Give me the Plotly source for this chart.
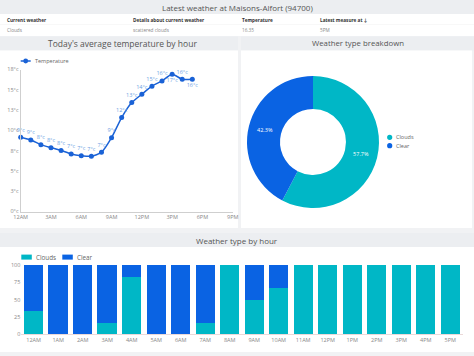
import plotly.graph_objects as go

W, H = 474, 356

# ---------------- data ----------------
hours = list(range(18))
hour_labels = ["12AM", "1AM", "2AM", "3AM", "4AM", "5AM", "6AM", "7AM", "8AM",
               "9AM", "10AM", "11AM", "12PM", "1PM", "2PM", "3PM", "4PM", "5PM"]
temperature = [9.15, 8.82, 8.24, 7.87, 7.52, 7.09, 6.88, 6.81, 7.30, 9.10,
               11.57, 13.42, 14.45, 15.45, 16.09, 16.92, 16.30, 16.30]
temp_label_pos = ["top center"] * 15 + ["bottom center", "top center", "bottom center"]

x_tick_vals = [0, 3, 6, 9, 12, 15, 18, 21]
x_tick_text = ["12AM", "3AM", "6AM", "9AM", "12PM", "3PM", "6PM", "9PM"]
y_tick_vals = [0, 2.5, 5, 7.5, 10, 12.5, 15, 17.5]
y_tick_text = ["0°c", "3°c", "5°c", "8°c", "10°c", "13°c", "15°c", "18°c"]

weather_types = ["Clouds", "Clear"]
weather_share = [57.7, 42.3]

clouds_pct = [33.3, 0, 0, 16.7, 83.3, 0, 0, 16.7, 100, 50, 66.7,
              100, 100, 100, 100, 100, 100, 100]
clear_pct = [100 - v for v in clouds_pct]

table_headers = ["Current weather", "Details about current weather", "Temperature", "Latest measure at ↓"]
table_values = ["Clouds", "scattered clouds", "16.35", "5PM"]

TEAL = "#00b7c6"
BLUE = "#0a63e3"
LINE = "#1a62d6"
FONT = "Open Sans, Lato, sans-serif"


def px(x):
    return x / W


def py(y):
    return 1 - y / H


fig = go.Figure()

# line chart
fig.add_trace(go.Scatter(
    x=hours, y=temperature, mode="lines+markers+text", name="Temperature",
    line=dict(color=LINE, width=1.5, shape="spline", smoothing=0.6),
    marker=dict(color=LINE, size=5),
    text=[f"{v:.0f}°c" for v in temperature], textposition=temp_label_pos,
    textfont=dict(size=5.5, color="#6c9fe3", family=FONT),
    cliponaxis=False, xaxis="x", yaxis="y", showlegend=False,
))

# donut
fig.add_trace(go.Pie(
    labels=weather_types, values=weather_share, hole=0.5, sort=False,
    direction="clockwise", rotation=0,
    marker=dict(colors=[TEAL, BLUE]),
    textinfo="percent", texttemplate="%{percent:.1%}", textposition="inside",
    insidetextorientation="horizontal",
    textfont=dict(size=5.5, color="white", family=FONT),
    domain=dict(x=[px(247), px(379)], y=[py(208), py(76)]),
    showlegend=False,
))

# stacked bars
fig.add_trace(go.Bar(x=hour_labels, y=clouds_pct, name="Clouds", marker_color=TEAL,
                     marker_line_width=0, xaxis="x3", yaxis="y3", showlegend=False))
fig.add_trace(go.Bar(x=hour_labels, y=clear_pct, name="Clear", marker_color=BLUE,
                     marker_line_width=0, xaxis="x3", yaxis="y3", showlegend=False))

# ---------------- layout decorations ----------------
GRAY = "#eceef1"
shapes = []


def rect(x0, y0, x1, y1, color, layer="below"):
    shapes.append(dict(type="rect", xref="paper", yref="paper", x0=px(x0), x1=px(x1),
                       y0=py(y1), y1=py(y0), fillcolor=color, line=dict(width=0), layer=layer))


def dot(cx, cy, r, color):
    shapes.append(dict(type="circle", xref="paper", yref="paper", x0=px(cx - r), x1=px(cx + r),
                       y0=py(cy + r), y1=py(cy - r), fillcolor=color, line=dict(width=0), layer="above"))


rect(0, 0, 474, 14, GRAY)
rect(0, 14, 474, 36, "white")
rect(0, 36.5, 238, 50.5, GRAY)
rect(0, 50.5, 238, 228, "white")
rect(241, 36.5, 474, 50.5, GRAY)
rect(241, 50.5, 472, 228, "white")
rect(0, 233, 474, 247, GRAY)
rect(0, 247, 474, 352, "white")
shapes.append(dict(type="line", xref="paper", yref="paper", x0=0, x1=1, y0=py(24.5), y1=py(24.5),
                   line=dict(color="#f0f0f0", width=0.5)))

annotations = []


def text(x, y, s, size, color, xanchor="left", bold=False):
    annotations.append(dict(x=px(x), y=py(y), xref="paper", yref="paper", text=f"<b>{s}</b>" if bold else s,
                            showarrow=False, xanchor=xanchor, yanchor="middle",
                            font=dict(size=size, color=color, family=FONT)))


text(237, 7.5, "Latest weather at Maisons-Alfort (94700)", 8, "#555", "center")
for cx, h, v in zip([5, 131, 240, 318], table_headers, table_values):
    text(cx, 19.5, h, 4.7, "#333", bold=True)
    text(cx, 30, v, 4.7, "#888")
text(122, 43.5, "Today's average temperature by hour", 8.5, "#555", "center")
text(358, 43.5, "Weather type breakdown", 7.8, "#555", "center")
text(237, 240, "Weather type by hour", 8, "#555", "center")

# legends (drawn as keys next to each chart)
LEG = "#666"
shapes.append(dict(type="line", xref="paper", yref="paper", x0=px(20.7), x1=px(30.7), y0=py(61), y1=py(61),
                   line=dict(color=LINE, width=1.5), layer="above"))
dot(25.7, 61, 2.4, LINE)
text(32.7, 61, "Temperature", 5.5, LEG)

for (name, col), ly in zip(zip(weather_types, [TEAL, BLUE]), [137.3, 145.7]):
    dot(389.7, ly, 2.6, col)
    text(393.8, ly, name, 5.5, LEG)

for (name, col), lx in zip(zip(weather_types, [TEAL, BLUE]), [21.3, 62.3]):
    rect(lx, 254.6, lx + 10.5, 259.6, col, layer="above")
    text(lx + 12.2, 257.1, name, 6.3, LEG)

axis_font = dict(size=5.5, color="#888", family=FONT)

fig.update_layout(
    width=W, height=H, autosize=False,
    margin=dict(l=0, r=0, t=0, b=0, autoexpand=False),
    paper_bgcolor="#f1f2f4", plot_bgcolor="rgba(0,0,0,0)",
    font=dict(family=FONT), showlegend=False,
    shapes=shapes, annotations=annotations,
    bargap=0.21, barmode="stack",
    xaxis=dict(domain=[px(20.7), px(232.7)], range=[0, 21], tickvals=x_tick_vals, ticktext=x_tick_text,
               showgrid=False, zeroline=False, showline=True, linecolor="#cfcfcf", linewidth=1,
               tickfont=axis_font, ticks="", anchor="y", automargin=False),
    yaxis=dict(domain=[py(211.5), py(69.5)], range=[0, 17.5], tickvals=y_tick_vals, ticktext=y_tick_text,
               showgrid=False, zeroline=False, showline=True, linecolor="#cfcfcf", linewidth=1,
               tickfont=axis_font, ticks="", anchor="x", automargin=False),
    xaxis3=dict(domain=[px(21.4), px(462.5)], showgrid=False, zeroline=False, showline=True,
                linecolor="#ead9d9", linewidth=1, tickfont=axis_font, ticks="", anchor="y3",
                automargin=False),
    yaxis3=dict(domain=[py(334.3), py(265)], range=[0, 100], tickvals=[0, 25, 50, 75, 100],
                ticksuffix="%", showgrid=False, zeroline=False, showline=False,
                tickfont=axis_font, ticks="", anchor="x3", automargin=False),
)

fig.write_html("out.html", config={"displayModeBar": False},
               post_script="document.body.style.margin='0';")
